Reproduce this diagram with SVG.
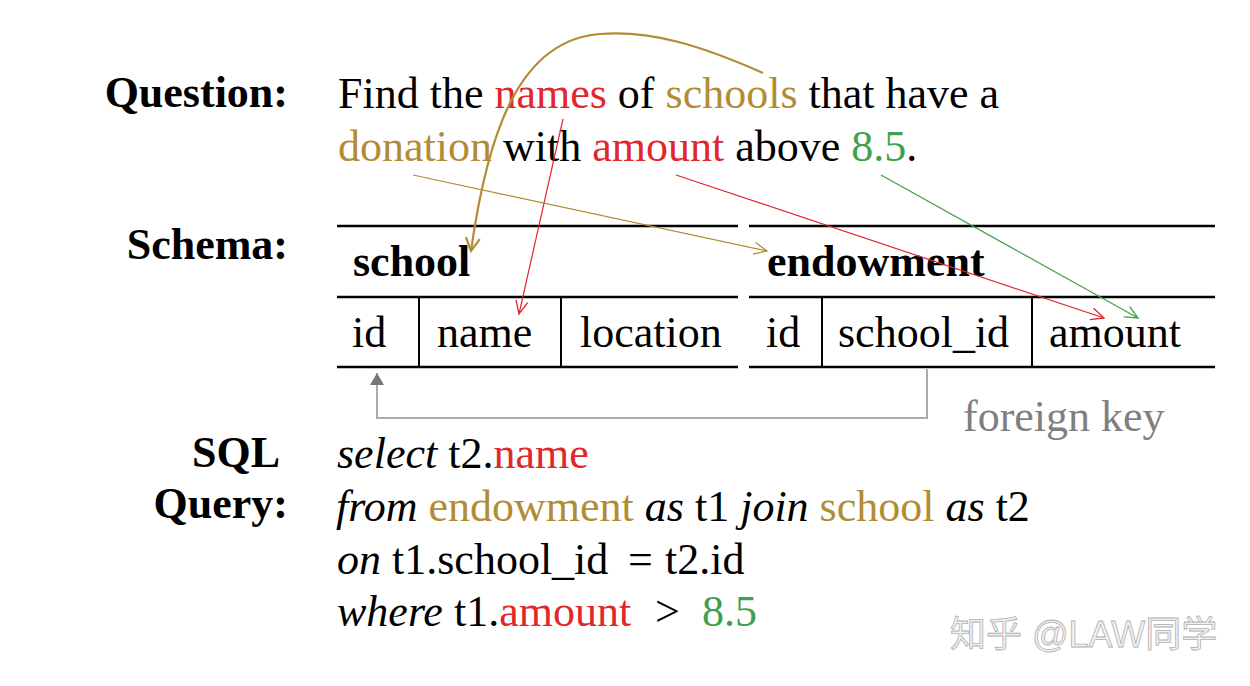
<svg xmlns="http://www.w3.org/2000/svg" width="1250" height="686" viewBox="0 0 1250 686">
<style>
.t{font-family:"Liberation Serif","Times New Roman",serif;font-size:44px;fill:#000}
.b{font-weight:bold}
.i{font-style:italic}
.r{fill:#e1262c}
.g{fill:#b28c35}
.gr{fill:#41a04b}
.gy{fill:#7f7f7f}
.tl{stroke:#000;stroke-width:2.5;fill:none}
.vl{stroke:#000;stroke-width:2;fill:none}
.wm{font-family:"Liberation Sans","Noto Sans CJK SC",sans-serif;font-size:36px;fill:#f2f2f2;stroke:#b0b0b0;stroke-width:0.8}
</style>
<defs>
<marker id="aGold" markerUnits="userSpaceOnUse" markerWidth="20" markerHeight="20" refX="14" refY="8" orient="auto"><path d="M1,1 L14,8 L1,15" fill="none" stroke="#b28c35" stroke-width="2.2"/></marker>
<marker id="aGoldT" markerUnits="userSpaceOnUse" markerWidth="20" markerHeight="20" refX="14" refY="8" orient="auto"><path d="M1,2 L14,8 L1,14" fill="none" stroke="#b28c35" stroke-width="1.3"/></marker>
<marker id="aRed" markerUnits="userSpaceOnUse" markerWidth="20" markerHeight="20" refX="14" refY="8" orient="auto"><path d="M1,2 L14,8 L1,14" fill="none" stroke="#e1262c" stroke-width="1.3"/></marker>
<marker id="aGreen" markerUnits="userSpaceOnUse" markerWidth="20" markerHeight="20" refX="14" refY="8" orient="auto"><path d="M1,2 L14,8 L1,14" fill="none" stroke="#41a04b" stroke-width="1.3"/></marker>
<marker id="aGray" markerUnits="userSpaceOnUse" markerWidth="16" markerHeight="16" refX="12" refY="7" orient="auto"><path d="M0,0 L12,7 L0,14 Z" fill="#777"/></marker>
</defs>

<g id="labels">
<text class="t b" x="288" y="107" text-anchor="end">Question:</text>
<text class="t b" x="288" y="259" text-anchor="end">Schema:</text>
<text class="t b" x="280" y="467" text-anchor="end">SQL</text>
<text class="t b" x="288" y="518" text-anchor="end">Query:</text>
</g>

<g id="question">
<text class="t" x="338" y="108">Find the <tspan class="r">names</tspan> of <tspan class="g">schools</tspan> that have a</text>
<text class="t" x="338" y="161"><tspan class="g">donation</tspan> with <tspan class="r">amount</tspan> above <tspan class="gr">8.5</tspan>.</text>
</g>

<g id="table-school">
<line class="tl" x1="337" y1="226" x2="738" y2="226"/>
<line class="tl" x1="337" y1="297" x2="738" y2="297"/>
<line class="tl" x1="337" y1="367" x2="738" y2="367"/>
<line class="vl" x1="419" y1="297" x2="419" y2="367"/>
<line class="vl" x1="561" y1="297" x2="561" y2="367"/>
<text class="t b" x="353" y="276">school</text>
<text class="t" x="352" y="347">id</text>
<text class="t" x="437" y="347">name</text>
<text class="t" x="580" y="347">location</text>
</g>

<g id="table-endowment">
<line class="tl" x1="749" y1="226" x2="1215" y2="226"/>
<line class="tl" x1="749" y1="297" x2="1215" y2="297"/>
<line class="tl" x1="749" y1="367" x2="1215" y2="367"/>
<line class="vl" x1="822" y1="297" x2="822" y2="367"/>
<line class="vl" x1="1032" y1="297" x2="1032" y2="367"/>
<text class="t b" x="767" y="276">endowment</text>
<text class="t" x="766" y="347">id</text>
<text class="t" x="838" y="347">school_id</text>
<text class="t" x="1049" y="347">amount</text>
</g>

<g id="fk-label">
<text class="t gy" x="963" y="431">foreign key</text>
</g>

<g id="sql">
<text class="t" x="337" y="468"><tspan class="i">select</tspan> t2.<tspan class="r">name</tspan></text>
<text class="t" x="336" y="521"><tspan class="i">from</tspan> <tspan class="g">endowment</tspan> <tspan class="i">as</tspan> t1 <tspan class="i">join</tspan> <tspan class="g">school</tspan> <tspan class="i">as</tspan> t2</text>
<text class="t" x="337" y="574"><tspan class="i">on</tspan> t1.school_id<tspan x="628">=</tspan><tspan x="665">t2.id</tspan></text>
<text class="t" x="337" y="626"><tspan class="i">where</tspan> t1.<tspan class="r">amount</tspan><tspan x="655">&gt;</tspan><tspan x="702" class="gr">8.5</tspan></text>
</g>

<g id="connectors">
<path d="M763,73 C700,45 650,30 600,34 C520,40 488,130 471,251" fill="none" stroke="#b28c35" stroke-width="2.2" marker-end="url(#aGold)"/>
<path d="M563,119 L519,314" fill="none" stroke="#e1262c" stroke-width="1.2" marker-end="url(#aRed)"/>
<path d="M413,175 L767,251" fill="none" stroke="#b28c35" stroke-width="1.2" marker-end="url(#aGoldT)"/>
<path d="M676,175 L1104,318" fill="none" stroke="#e1262c" stroke-width="1.2" marker-end="url(#aRed)"/>
<path d="M881,175 L1138,318" fill="none" stroke="#41a04b" stroke-width="1.2" marker-end="url(#aGreen)"/>
<path d="M927,369 L927,418 L377,418 L377,373" fill="none" stroke="#ababab" stroke-width="2" marker-end="url(#aGray)"/>
</g>

<g id="watermark">
<text class="wm" x="950" y="647">知乎 @LAW同学</text>
</g>
</svg>
